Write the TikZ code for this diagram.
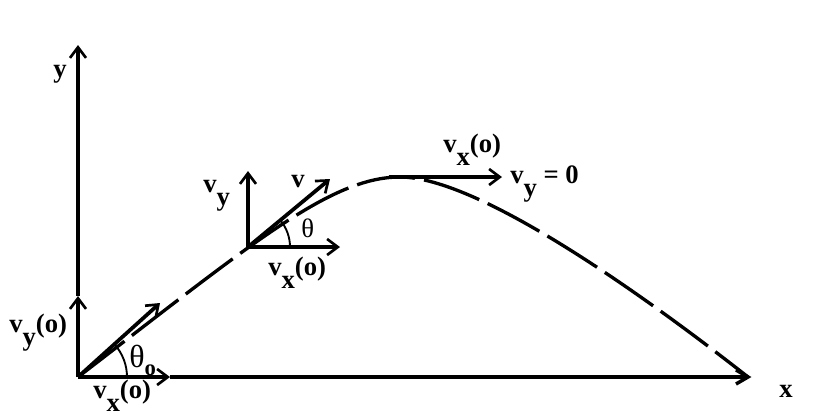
\documentclass[tikz,border=0pt]{standalone}
\usepackage{fontspec}
\setmainfont{Liberation Serif}
\usetikzlibrary{arrows.meta}
\newcommand{\vsub}[2]{v\raisebox{-0.5em}{#1}#2}

\begin{document}
\begin{tikzpicture}[x=0.75pt,y=0.75pt,yscale=-1,xscale=1,
  axis/.style={line width=2.6pt},
  barb/.style={-{Straight Barb[length=8pt,width=12pt,line width=2pt]}},
  vec/.style={line width=2.8pt,barb},
  traj/.style={line width=2.5pt,dash pattern=on 44pt off 7pt},
  angarc/.style={line width=1.4pt},
  lbl/.style={anchor=base west,inner sep=0pt,font=\fontsize{20}{22}\selectfont\bfseries}]
\useasboundingbox (0,0) rectangle (838,419);

% Points
\coordinate (O) at (78,377);
\coordinate (Ytip) at (78,45);
\coordinate (Xtip) at (748,377);
\coordinate (Vyo) at (78,296);
\coordinate (Vxo) at (170,377);
\coordinate (Vo) at (160,303);
\coordinate (P) at (248,247);
\coordinate (Pvx) at (340,247);
\coordinate (Pvy) at (248,171);
\coordinate (Pv) at (330,179);
\coordinate (A) at (400,177);
\coordinate (Avx) at (502,177);

%Straight Lines (axes)
\draw[axis] (Vxo) -- (Xtip);
\draw[axis,barb] (Vyo) -- (Ytip);
\draw[axis] (Xtip) ++(-12,-7) -- (Xtip) -- ++(-12,7);

%Curve Lines (trajectory)
\draw[traj] (O) .. controls (250,245) and (330,177) .. (A) .. controls (480,177) and (650,300) .. (Xtip);

%Straight Lines (vectors at launch)
\draw[vec] (O) -- (Vyo);
\draw[vec] (O) -- (Vxo);
\draw[vec] (O) -- (Vo);
\draw[angarc] ([shift={(49,0)}]O) arc[start angle=0,end angle=-41,radius=49];

%Straight Lines (vectors on the way up)
\draw[vec] (P) -- (Pvy);
\draw[vec] (P) -- (Pvx);
\draw[vec] (P) -- (Pv);
\draw[angarc] ([shift={(42,0)}]P) arc[start angle=0,end angle=-39,radius=42];

%Straight Lines (vector at the top)
\draw[vec] ([xshift=-8]A) -- (Avx);

% Text Node
\node[lbl] (ylab) at (53,77) {y};
% Text Node
\node[lbl] (xlab) at (779,397) {x};
% Text Node
\node[lbl] (vyolab) at (9,332) {\vsub{y}{(o)}};
% Text Node
\node[lbl] (vxolab) at (93,398) {\vsub{x}{(o)}};
% Text Node
\node[lbl,font=\fontsize{24}{26}\selectfont] (tholab) at (129,367) {θ\raisebox{-0.25em}{\fontsize{17}{18}\selectfont\bfseries o}};
% Text Node
\node[lbl] (vylab) at (203,192) {\vsub{y}{}};
% Text Node
\node[lbl] (vlab) at (291,187) {v};
% Text Node
\node[lbl,font=\fontsize{20}{22}\selectfont] (thlab) at (301,237) {θ};
% Text Node
\node[lbl] (vxlab) at (268,275) {\vsub{x}{(o)}};
% Text Node
\node[lbl] (vxalab) at (443,152) {\vsub{x}{(o)}};
% Text Node
\node[lbl] (vyalab) at (510,183) {\vsub{y}{ = 0}};
\end{tikzpicture}
\end{document}
